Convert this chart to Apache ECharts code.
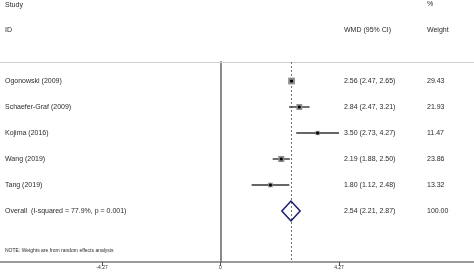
<!DOCTYPE html>
<html><head><meta charset="utf-8">
<script src="https://cdn.jsdelivr.net/npm/echarts@6/dist/echarts.min.js"></script>
<style>html,body{margin:0;padding:0;background:#fff}#c{width:474px;height:276px}</style>
</head><body><div id="c"></div>
<script>
const studies = ['Ogonowski (2009)', 'Schaefer-Graf (2009)', 'Kojima (2016)', 'Wang (2019)', 'Tang (2019)'];
const wmd = [2.56, 2.84, 3.50, 2.19, 1.80];
const lower = [2.47, 2.47, 2.73, 1.88, 1.12];
const upper = [2.65, 3.21, 4.27, 2.50, 2.48];
const weights = [29.43, 21.93, 11.47, 23.86, 13.32];
const overallLabel = 'Overall  (I-squared = 77.9%, p = 0.001)';
const overall = {est: 2.54, lo: 2.21, hi: 2.87, weight: 100.00};
const tickValues = [-4.27, 0, 4.27];
const tickLabels = ['-4.27', '0', '4.27'];
const note = 'NOTE: Weights are from random effects analysis';

const FONT = 'Liberation Sans, Arial, sans-serif';
const Y_MIN = -0.7308, Y_MAX = 6.9615;
const chart = echarts.init(document.getElementById('c'), null, {renderer: 'canvas'});

const rows = studies.map((s, i) => [i, wmd[i], lower[i], upper[i], weights[i]]);
const textRows = studies.map((s, i) => ({
  value: [i], name: s,
  ci: wmd[i].toFixed(2) + ' (' + lower[i].toFixed(2) + ', ' + upper[i].toFixed(2) + ')',
  w: weights[i].toFixed(2)
}));
textRows.push({value: [studies.length], name: overallLabel,
  ci: overall.est.toFixed(2) + ' (' + overall.lo.toFixed(2) + ', ' + overall.hi.toFixed(2) + ')',
  w: overall.weight.toFixed(2)});

const txt = (x, y, s, size) => ({type: 'text', x: x, y: y,
  style: {text: s, fill: '#2a2a2a', font: size + 'px ' + FONT, textVerticalAlign: 'middle', textAlign: 'left'}});

chart.setOption({
  animation: false,
  grid: {left: 0, right: 0, top: 62, height: 200},
  xAxis: [{
    type: 'value', min: -7.946, max: 9.135, position: 'bottom',
    splitLine: {show: false},
    axisLine: {show: true, onZero: false, lineStyle: {color: '#7a7a7a', width: 1.5}},
    axisTick: {show: true, length: 4, customValues: tickValues, lineStyle: {color: '#555', width: 1}},
    axisLabel: {customValues: tickValues, formatter: v => tickLabels[tickValues.indexOf(+v.toFixed(2))] ?? '',
      fontSize: 5, color: '#333', margin: 3, fontFamily: FONT}
  }, {
    type: 'value', min: -7.946, max: 9.135, position: 'top',
    splitLine: {show: false}, axisTick: {show: false}, axisLabel: {show: false},
    axisLine: {show: true, onZero: false, lineStyle: {color: '#d0d0d0', width: 1}}
  }],
  yAxis: {
    type: 'value', inverse: true, min: Y_MIN, max: Y_MAX,
    splitLine: {show: false}, axisTick: {show: false}, axisLabel: {show: false},
    axisLine: {show: true, onZero: true, lineStyle: {color: '#8a8a8a', width: 2}}
  },
  graphic: [
    txt(5, 5, 'Study', 7), txt(5, 30, 'ID', 7),
    txt(344, 30, 'WMD (95% CI)', 7),
    txt(427, 4, '%', 7), txt(427, 30, 'Weight', 7)
  ],
  series: [
    {
      type: 'custom', xAxisIndex: 0, z: 1, data: [[overall.est]],
      renderItem: function (params, api) {
        const t = api.coord([api.value(0), Y_MIN]);
        const b = api.coord([api.value(0), Y_MAX]);
        const x = Math.round(t[0]) + 0.5;
        return {type: 'line', shape: {x1: x, y1: t[1], x2: x, y2: b[1]},
          style: {stroke: '#c05050', lineWidth: 1, lineDash: [2, 2]}};
      }
    },
    {
      type: 'custom', xAxisIndex: 0, data: rows, z: 3,
      renderItem: function (params, api) {
        const i = api.value(0);
        const c = api.coord([api.value(1), i]);
        const a = api.coord([api.value(2), i]);
        const b = api.coord([api.value(3), i]);
        const s = 1.25 * Math.sqrt(api.value(4));
        return {type: 'group', children: [
          {type: 'line', shape: {x1: a[0], y1: a[1], x2: b[0], y2: b[1]}, style: {stroke: '#333', lineWidth: 1.4}},
          {type: 'rect', shape: {x: c[0] - s / 2, y: c[1] - s / 2, width: s, height: s}, style: {fill: '#8c8c8c'}},
          {type: 'circle', shape: {cx: c[0], cy: c[1], r: 1.6}, style: {fill: '#000'}}
        ]};
      }
    },
    {
      type: 'custom', xAxisIndex: 0, z: 3,
      data: [[studies.length, overall.est, overall.lo, overall.hi]],
      renderItem: function (params, api) {
        const i = api.value(0);
        const c = api.coord([api.value(1), i]);
        const a = api.coord([api.value(2), i]);
        const b = api.coord([api.value(3), i]);
        const h = 10;
        return {type: 'polygon', shape: {points: [[a[0], c[1]], [c[0], c[1] - h], [b[0], c[1]], [c[0], c[1] + h]]},
          style: {fill: 'none', stroke: '#1b1b6b', lineWidth: 1.5}};
      }
    },
    {
      type: 'custom', xAxisIndex: 0, z: 4, data: textRows,
      renderItem: function (params, api) {
        const d = textRows[params.dataIndex];
        const y = api.coord([0, api.value(0)])[1];
        return {type: 'group', children: [
          txt(5, y, d.name, 7), txt(344, y, d.ci, 7), txt(427, y, d.w, 7)
        ]};
      }
    },
    {
      type: 'custom', xAxisIndex: 0, z: 4, data: [[6.54]],
      renderItem: function (params, api) {
        const y = api.coord([0, api.value(0)])[1];
        return txt(5, y, note, 5);
      }
    }
  ]
});
</script></body></html>
